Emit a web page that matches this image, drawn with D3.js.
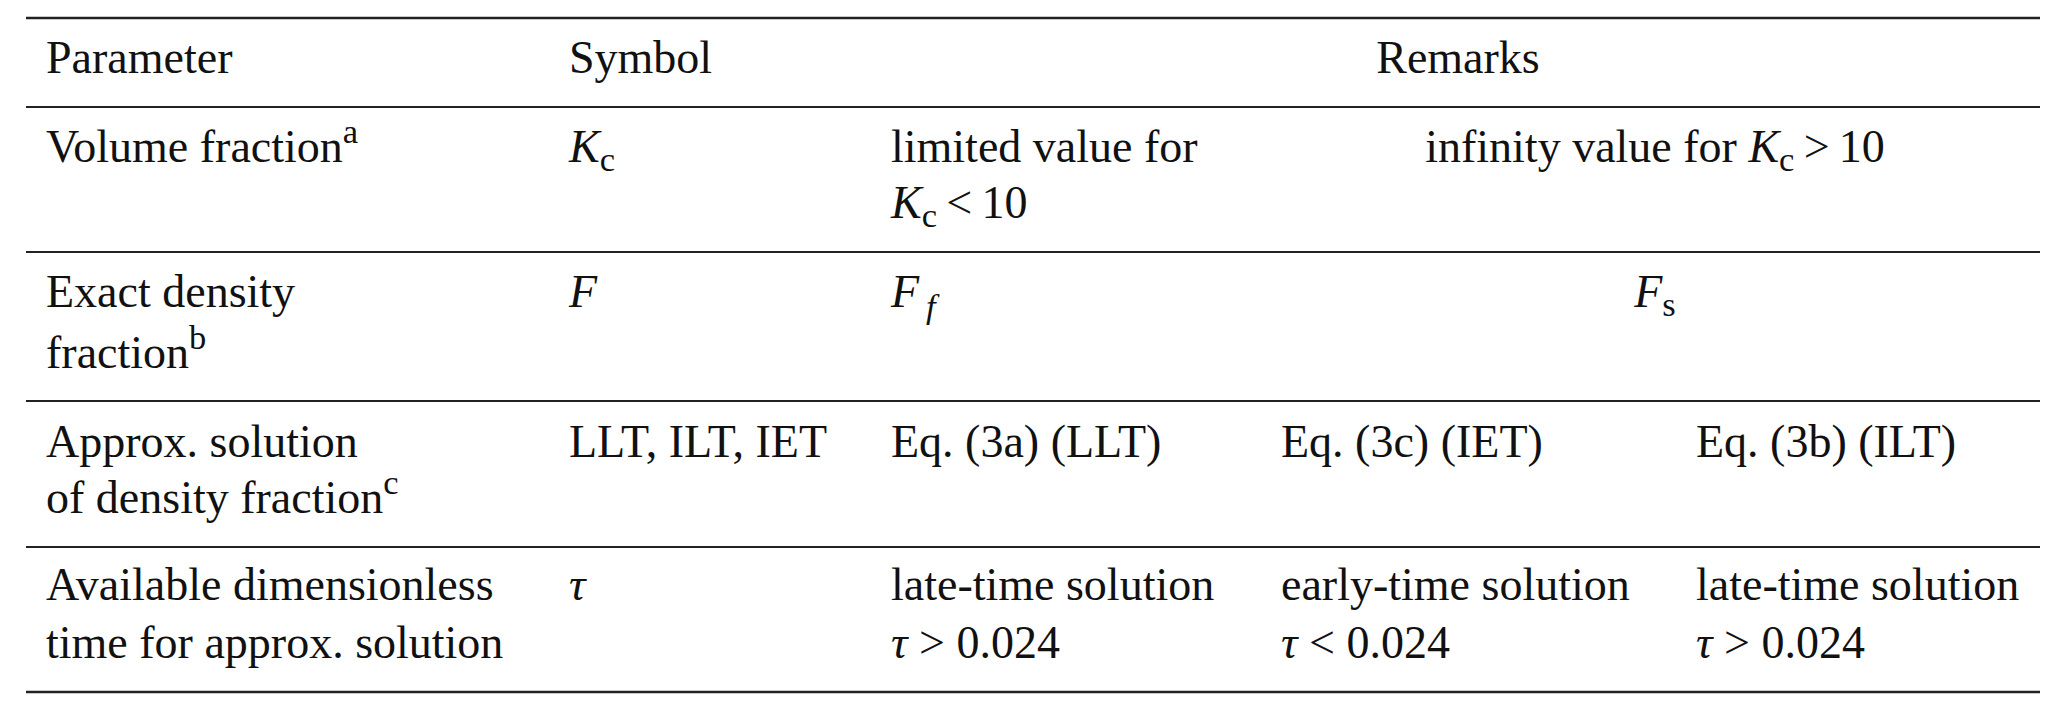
<!DOCTYPE html>
<html><head><meta charset="utf-8">
<script src="https://cdn.jsdelivr.net/npm/d3@7"></script>
<style>body{margin:0;background:#fff}</style></head>
<body><svg id="c" width="2067" height="711"></svg>
<script>
// segments: [text, style] style: n normal, i italic, sub, isub (italic sub), sup
const header = [["Parameter"],["Symbol"],["Remarks"]];
const paramCol = [
  [[["Volume fraction","n"],["a","sup"]]],
  [[["Exact density","n"]],[["fraction","n"],["b","sup"]]],
  [[["Approx. solution","n"]],[["of density fraction","n"],["c","sup"]]],
  [[["Available dimensionless","n"]],[["time for approx. solution","n"]]]
];
const symbolCol = [
  [[["K","i"],["c","sub"]]],
  [[["F","i"]]],
  [[["LLT, ILT, IET","n"]]],
  [[["τ","i"]]]
];
const remarks = [
  [{col:2,lines:[[["limited value for","n"]],[["K","i"],["c","sub"],["\u2009<\u200910","n"]]]},
   {col:"34",lines:[[["infinity value for ","n"],["K","i"],["c","sub"],["\u2009>\u200910","n"]]]}],
  [{col:2,lines:[[["F","i"],["\u2009f","isub"]]]},
   {col:"34",lines:[[["F","i"],["s","sub"]]]}],
  [{col:2,lines:[[["Eq. (3a) (LLT)","n"]]]},
   {col:3,lines:[[["Eq. (3c) (IET)","n"]]]},
   {col:4,lines:[[["Eq. (3b) (ILT)","n"]]]}],
  [{col:2,lines:[[["late-time solution","n"]],[["τ","i"],["  >  0.024","n"]]]},
   {col:3,lines:[[["early-time solution","n"]],[["τ","i"],["  <  0.024","n"]]]},
   {col:4,lines:[[["late-time solution","n"]],[["τ","i"],["  >  0.024","n"]]]}]
];
const rules = [18,107,252,401,547,692];
const headerBase = 73;
const rowBase = [[162,218],[307,368],[457,513],[600,658]];

const svg = d3.select("#c");
const colX = d3.scaleOrdinal().domain([0,1,2,3,4]).range([46,569,891,1281,1696]);
const FS = 46;
const g = svg.append("g").attr("font-family","'Liberation Serif','Times New Roman',serif").attr("font-size",FS).attr("fill","#111").style("white-space","pre");

svg.selectAll("line.r").data(rules).enter().append("line")
  .attr("x1",26).attr("x2",2040).attr("y1",d=>d).attr("y2",d=>d)
  .attr("stroke","#222").attr("stroke-width",(d,i)=>(i==0||i==rules.length-1)?2.6:1.8);

function writeLine(x,y,segs,anchor){
  const t = g.append("text").attr("x",x).attr("y",y).attr("text-anchor",anchor||"start");
  let shift=0;
  segs.forEach(([txt,st])=>{
    let target = 0, size=null, italic=false;
    if(st==="i") italic=true;
    if(st==="sub"){target=9;size=FS*0.75;}
    if(st==="isub"){target=11;size=FS*0.75;italic=true;}
    if(st==="sup"){target=-19;size=FS*0.75;}
    const ts=t.append("tspan").text(txt).attr("dy",target-shift);
    if(size) ts.attr("font-size",size);
    if(italic) ts.attr("font-style","italic");
    shift=target;
  });
  return t;
}
writeLine(colX(0),headerBase,[[header[0][0],"n"]]);
writeLine(colX(1),headerBase,[[header[1][0],"n"]]);
writeLine(1458,headerBase,[[header[2][0],"n"]],"middle");

paramCol.forEach((lines,r)=>lines.forEach((l,k)=>writeLine(colX(0),rowBase[r][k],l)));
symbolCol.forEach((lines,r)=>lines.forEach((l,k)=>writeLine(colX(1),rowBase[r][k],l)));
const spanCenter = {"34":1655};
remarks.forEach((cells,r)=>cells.forEach(c=>{
  c.lines.forEach((l,k)=>{
    if(c.col==="34") writeLine(spanCenter["34"],rowBase[r][k],l,"middle");
    else writeLine(colX(c.col),rowBase[r][k],l);
  });
}));
</script></body></html>
